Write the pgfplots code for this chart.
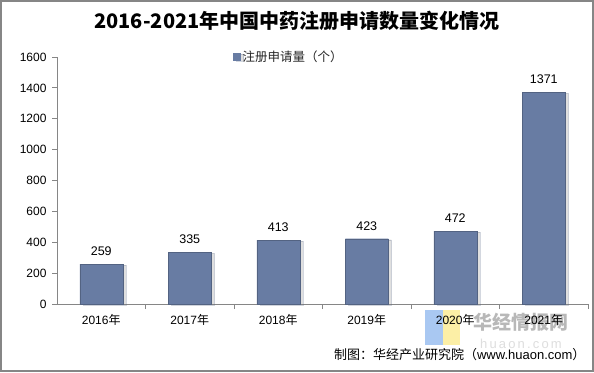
\documentclass[border=0pt]{standalone}
\usepackage{pgfplots}
\pgfplotsset{compat=1.18}
\usepackage{fontspec}
\setmainfont{Liberation Sans}
\newfontfamily\cjk{Noto Sans CJK SC}
\usetikzlibrary{shadows}
\definecolor{barblue}{HTML}{687CA3}
\definecolor{axisgray}{HTML}{868686}
\definecolor{wmblue}{HTML}{A9C8F2}
\definecolor{wmyellow}{HTML}{FCEFA6}
\begin{document}
\begin{tikzpicture}[x=1pt,y=1pt]
\useasboundingbox (-57,-68) rectangle (537,304);
\fill[white] (-57,-68) rectangle (537,304);
% watermark
\fill[wmblue] (368,-41) rectangle (386,-6);
\fill[wmyellow] (386,-41) rectangle (403,-6);
\node[text=black!28,font=\cjk\fontsize{19}{22}\selectfont\bfseries] at (464,-18) {华经情报网};
\node[text=black!13,font=\fontsize{13}{16}\selectfont] at (464,-40) {h\,u\,a\,o\,n\,.\,c\,o\,m};
\begin{axis}[
  at={(0,0)}, anchor=south west,
  scale only axis, width=531pt, height=247pt,
  xmin=-0.5, xmax=5.5, ymin=0, ymax=1600,
  axis x line*=bottom, axis y line*=left,
  axis line style={draw=axisgray, line width=0.8pt, -},
  xtick={0,...,5},
  xticklabels={2016{\cjk 年},2017{\cjk 年},2018{\cjk 年},2019{\cjk 年},2020{\cjk 年},2021{\cjk 年}},
  major x tick style={draw=none},
  minor xtick={0.5,1.5,2.5,3.5,4.5,5.5},
  minor x tick style={draw=axisgray, line width=0.8pt},
  minor tick length=5pt,
  ytick={0,200,...,1600},
  y tick style={draw=axisgray, line width=0.8pt},
  major tick length=5pt,
  tick align=outside,
  /pgf/number format/assume math mode=true,
  /pgf/number format/1000 sep={},
  tick label style={font=\fontsize{12}{14}\selectfont, text=black},
  yticklabel style={xshift=-2pt},
  xticklabel style={yshift=-2pt},
  legend style={at={(0.437,1.0)}, anchor=center, draw=none, fill=none,
    font=\cjk\fontsize{12.5}{14}\selectfont, text=black!85},
  legend image code/.code={\fill[barblue] (0pt,-3.5pt) rectangle (7pt,3.5pt);},
  nodes near coords,
  nodes near coords style={font=\fontsize{12.5}{14}\selectfont, text=black, anchor=south, yshift=5pt},
  clip=false,
]
\addplot[ybar, bar width=43pt, fill=barblue, draw=barblue!80!black, line width=0.3pt,
  drop shadow={shadow xshift=3pt, shadow yshift=-1pt, opacity=0.25}]
  coordinates {(0,259) (1,335) (2,413) (3,423) (4,472) (5,1371)};
\addlegendentry{注册申请量（个）}
\end{axis}
% title
\node[font=\cjk\fontsize{20}{24}\selectfont\bfseries] at (240,283) {2016-2021年中国中药注册申请数量变化情况};
% footer
\node[anchor=east, font=\fontsize{13}{15}\selectfont] at (532,-51) {{\cjk 制图：华经产业研究院（}www.huaon.com{\cjk ）}};
% frame
\draw[axisgray, line width=1.2pt] (-56,-67) rectangle (536,303);
\end{tikzpicture}
\end{document}
